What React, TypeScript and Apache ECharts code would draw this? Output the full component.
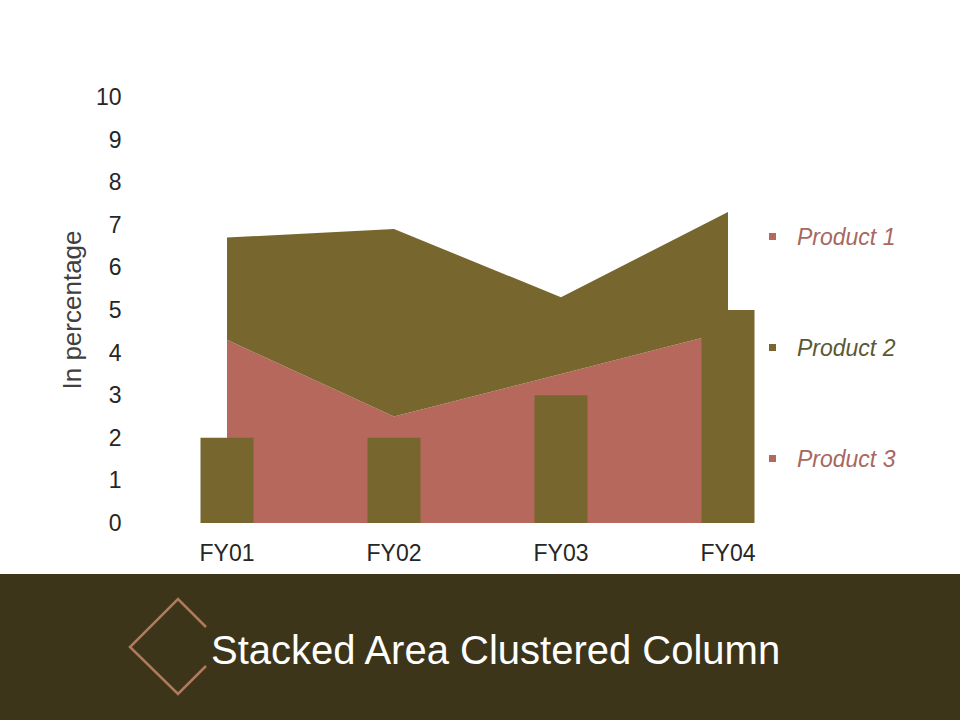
import React, { useEffect, useRef } from 'react';
import * as echarts from 'echarts';

// Data
const categories = ['FY01', 'FY02', 'FY03', 'FY04'];
const product1 = [4.3, 2.5, 3.5, 4.5]; // red area (bottom)
const product2 = [2.4, 4.4, 1.8, 2.8]; // olive area stacked on top
const product3 = [2, 2, 3, 5]; // olive columns
const yTicks = { min: 0, max: 10, interval: 1 };

const OLIVE = '#77672f';
const RED = '#b5685b';
const FOOTER = '#3d3519';
const FONT = 'Liberation Sans, Arial, sans-serif';

export default function App() {
  const chartRef = useRef<HTMLDivElement>(null);

  useEffect(() => {
    document.body.style.margin = '0';
    const chart = echarts.init(chartRef.current!, undefined, { renderer: 'svg' });

    const option = {
      animation: false,
      backgroundColor: '#ffffff',
      grid: { left: 143.5, right: 148.5, top: 97, bottom: 197 },
      xAxis: {
        type: 'category',
        data: categories,
        boundaryGap: true,
        axisLine: { show: false },
        axisTick: { show: false },
        axisLabel: { color: '#262626', fontSize: 23, fontFamily: FONT, margin: 18 },
      },
      yAxis: {
        type: 'value',
        min: yTicks.min,
        max: yTicks.max,
        interval: yTicks.interval,
        name: 'In percentage',
        nameLocation: 'middle',
        nameGap: 53,
        nameRotate: 90,
        nameTextStyle: { color: '#404040', fontSize: 26, fontFamily: FONT },
        axisLine: { show: false },
        axisTick: { show: false },
        splitLine: { show: false },
        axisLabel: { color: '#262626', fontSize: 23, fontFamily: FONT, margin: 22 },
      },
      legend: {
        orient: 'vertical',
        left: 764,
        top: 220,
        itemWidth: 7,
        itemHeight: 7,
        itemGap: 88,
        icon: 'rect',
        textStyle: {
          fontSize: 23,
          fontStyle: 'italic',
          fontFamily: FONT,
          padding: [0, 0, 0, 16],
        },
        data: [
          { name: 'Product 1', itemStyle: { color: RED }, textStyle: { color: '#a8675f' } },
          { name: 'Product 2', itemStyle: { color: OLIVE }, textStyle: { color: '#5d5833' } },
          { name: 'Product 3', itemStyle: { color: RED }, textStyle: { color: '#a8675f' } },
        ],
      },
      series: [
        {
          name: 'Product 1',
          type: 'line',
          stack: 'area',
          data: product1,
          symbol: 'none',
          lineStyle: { width: 0 },
          itemStyle: { color: RED },
          areaStyle: { color: RED, opacity: 1 },
        },
        {
          name: 'Product 2',
          type: 'line',
          stack: 'area',
          data: product2,
          symbol: 'none',
          lineStyle: { width: 0 },
          itemStyle: { color: OLIVE },
          areaStyle: { color: OLIVE, opacity: 1 },
        },
        {
          name: 'Product 3',
          type: 'bar',
          data: product3,
          barWidth: 53,
          itemStyle: { color: OLIVE },
          z: 3,
        },
      ],
      graphic: [
        {
          type: 'rect',
          shape: { x: 0, y: 574, width: 960, height: 146 },
          style: { fill: FOOTER },
          z: 10,
        },
        {
          type: 'polyline',
          shape: {
            points: [
              [206, 627],
              [178, 599],
              [130, 647],
              [178, 694],
              [206, 666],
            ],
          },
          style: { stroke: '#b07a5e', lineWidth: 2.5, fill: 'none' },
          z: 11,
        },
        {
          type: 'text',
          x: 211,
          y: 650,
          style: {
            text: 'Stacked Area Clustered Column',
            fill: '#ffffff',
            fontSize: 40,
            fontFamily: FONT,
            verticalAlign: 'middle',
          },
          z: 11,
        },
      ],
    };

    chart.setOption(option);
    return () => {
      chart.dispose();
    };
  }, []);

  return <div ref={chartRef} style={{ width: '960px', height: '720px' }} />;
}
